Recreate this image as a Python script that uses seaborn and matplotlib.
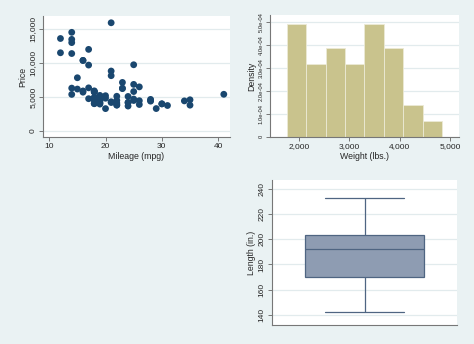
import matplotlib
matplotlib.use("Agg")
import matplotlib.pyplot as plt
import seaborn as sns
import numpy as np

# Data (1978 automobile data, as shown)
mpg = [22, 17, 22, 20, 15, 18, 26, 20, 16, 19, 14, 14, 21, 29, 16, 22, 22, 24, 19, 30,
       18, 16, 17, 28, 21, 12, 12, 14, 22, 14, 15, 18, 14, 20, 21, 19, 19, 18, 19, 24,
       16, 28, 34, 25, 26, 18, 18, 18, 19, 19, 19, 24, 17, 23, 25, 23, 35, 24, 21, 21,
       25, 28, 30, 14, 26, 35, 18, 31, 18, 23, 41, 25, 25, 17]
price = [4099, 4749, 3799, 4816, 7827, 5788, 4453, 5189, 10372, 4082, 11385, 14500, 15906,
         3299, 5705, 4504, 5104, 3667, 3955, 3984, 4010, 5886, 6342, 4389, 4187, 11497,
         13594, 13466, 3829, 5379, 6165, 4516, 6303, 3291, 8814, 5172, 4733, 4890, 4181,
         4195, 10371, 4647, 4425, 4482, 6486, 4060, 5798, 4934, 5222, 4723, 4424, 4172,
         9690, 6295, 9735, 6229, 4589, 5079, 8129, 4296, 5799, 4499, 3995, 12990, 3895,
         3798, 5899, 3748, 5719, 7140, 5397, 4697, 6850, 11995]
weight = [2930, 3350, 2640, 3250, 4080, 3670, 2230, 3280, 3880, 3400, 4330, 3900, 4290,
          2110, 3690, 3180, 3220, 2750, 3430, 2120, 3600, 3600, 3740, 1800, 2650, 4840,
          4720, 3830, 2580, 4060, 3720, 3370, 4130, 2830, 4060, 3310, 3300, 3690, 3370,
          2730, 4030, 3260, 1800, 2200, 2520, 3330, 3700, 3470, 3210, 3200, 3420, 2690,
          2830, 2070, 2650, 2370, 2020, 2280, 2750, 2130, 2240, 1760, 1980, 3420, 1830,
          2050, 2410, 2200, 2670, 2160, 2040, 1930, 1990, 3170]
length = [186, 173, 168, 196, 222, 218, 170, 200, 207, 200, 221, 204, 204, 163, 212, 193,
          200, 179, 197, 163, 206, 206, 220, 147, 179, 233, 230, 201, 169, 221, 212, 198,
          217, 195, 220, 198, 198, 218, 200, 180, 206, 170, 157, 165, 182, 201, 214, 198,
          201, 199, 203, 179, 189, 174, 177, 170, 165, 170, 184, 161, 172, 149, 154, 192,
          142, 164, 174, 165, 175, 172, 155, 155, 156, 193]

price_ticks = [0, 5000, 10000, 15000]
price_labels = ["0", "5,000", "10,000", "15,000"]
mpg_ticks = [10, 20, 30, 40]
weight_ticks = [2000, 3000, 4000, 5000]
weight_labels = ["2,000", "3,000", "4,000", "5,000"]
dens_ticks = [0, 1e-4, 2e-4, 3e-4, 4e-4, 5e-4]
dens_labels = ["0", "1.0e-04", "2.0e-04", "3.0e-04", "4.0e-04", "5.0e-04"]
len_ticks = [140, 160, 180, 200, 220, 240]

sns.set_style("white")
plt.rcParams['font.family'] = ['Liberation Sans', 'DejaVu Sans']

BG = "#EAF2F3"
GRID = "#E2EBED"
AX = "#777777"
TS = 6.0
LS = 6.3

fig = plt.figure(figsize=(4.74, 3.44), dpi=100, facecolor=BG)

def style(ax, ysize=TS):
    ax.set_facecolor("white")
    for s in ["top", "right"]:
        ax.spines[s].set_visible(False)
    for s in ["left", "bottom"]:
        ax.spines[s].set_color(AX)
        ax.spines[s].set_linewidth(0.8)
    ax.tick_params(axis="both", which="major", length=3, width=0.7, color=AX,
                   labelsize=TS, pad=1.5, direction="out", left=True, bottom=True)
    ax.tick_params(axis="y", labelsize=ysize)
    ax.yaxis.grid(True, color=GRID, linewidth=0.9)
    ax.xaxis.grid(False)
    ax.set_axisbelow(True)
    for lab in ax.get_yticklabels():
        lab.set_rotation(90)
        lab.set_va("center")

# Scatter
ax1 = fig.add_axes([43/474, 1-137/344, 187/474, 121/344])
sns.scatterplot(x=mpg, y=price, ax=ax1, color="#1A476F", s=24, edgecolor="none", linewidth=0)
ax1.set_xlim(8.9, 42.1)
ax1.set_ylim(-880, 16900)
ax1.set_xticks(mpg_ticks)
ax1.set_yticks(price_ticks, price_labels)
ax1.set_xlabel("Mileage (mpg)", fontsize=LS, labelpad=1)
ax1.set_ylabel("Price", fontsize=LS, labelpad=2)
style(ax1)

# Histogram
ax2 = fig.add_axes([270/474, 1-137/344, 189/474, 122/344])
sns.histplot(x=weight, bins=8, binrange=(min(weight), max(weight)), stat="density",
             ax=ax2, color="#C9C38D", edgecolor="#ECEAD6", linewidth=0.6, alpha=1)
ax2.set_xlim(1424, 5180)
ax2.set_ylim(-0.01e-4, 5.32e-4)
ax2.set_xticks(weight_ticks, weight_labels)
ax2.set_yticks(dens_ticks, dens_labels)
ax2.set_xlabel("Weight (lbs.)", fontsize=LS, labelpad=1)
ax2.set_ylabel("Density", fontsize=LS, labelpad=2)
style(ax2, ysize=4.2)

# Box plot
ax3 = fig.add_axes([272/474, 1-325/344, 185/474, 145/344])
sns.boxplot(y=length, ax=ax3, color="#8E9CB2", linecolor="#4F6582", linewidth=0.9,
            width=0.643, saturation=1, whis=1.5, fliersize=3, capwidths=0.43)
ax3.set_xlim(-0.5, 0.5)
ax3.set_ylim(132, 247)
ax3.set_yticks(len_ticks)
ax3.set_xticks([])
ax3.set_ylabel("Length (in.)", fontsize=LS, labelpad=2)
ax3.set_xlabel("")
style(ax3)
ax3.tick_params(axis="x", bottom=False)

fig.savefig("out.png", dpi=100, facecolor=BG)
